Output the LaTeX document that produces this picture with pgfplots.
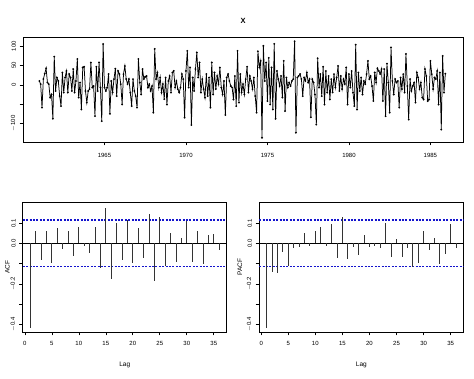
\documentclass[border=0pt]{standalone}
\usepackage{pgfplots}
\usepackage{pgfplotstable}
\pgfplotsset{compat=1.18}
\usepackage{fontspec}
\setmainfont{Liberation Sans}
\definecolor{cibl}{RGB}{20,20,205}

\pgfplotstableread{
v
10
2
-59
15
29
43
6
2
-33
-25
-88
73
-16
19
10
-29
-55
32
-20
19
36
-20
28
19
-16
41
-20
10
67
-33
6
-64
45
47
-16
-46
-16
-11
58
-7
-3
-81
47
-16
58
-7
-94
106
-7
-16
-7
28
-75
10
-20
15
42
-29
36
28
2
-51
28
49
15
2
15
-20
-55
15
-16
-29
-59
67
6
-25
41
15
21
23
-7
2
-16
-3
-72
93
15
32
-7
19
-20
2
-37
19
-51
10
23
-20
32
36
-7
10
-11
-20
-7
28
15
-85
36
88
-7
45
-104
19
-16
41
84
19
58
-20
15
-11
-33
28
-29
19
-59
58
-25
32
-11
23
2
45
-7
-25
10
-78
19
28
10
-3
-7
-38
23
-55
88
-46
28
-20
2
-25
15
47
-20
23
10
-11
19
-29
-72
87
45
62
-137
101
10
58
-42
70
-51
45
-64
106
-88
36
15
-3
23
-33
62
-68
19
-7
6
-3
10
15
113
-124
19
23
28
15
-29
19
10
32
6
15
-84
15
6
-25
-103
69
-7
28
-29
47
-51
36
-20
23
-38
15
-20
28
-7
19
49
-16
23
-11
15
2
45
-51
28
-7
36
-20
-55
104
-64
32
-16
19
-25
10
2
28
62
15
23
-3
-42
32
6
43
36
28
41
-42
41
-81
55
6
-72
97
10
-25
15
6
10
-59
19
-11
28
-20
80
-3
-90
15
-16
-3
6
-46
32
19
-11
6
-33
-38
41
23
-42
-38
62
28
-11
19
15
36
-51
32
-116
75
-20
29
}\series

\pgfplotstableread{
lag acf pacf
1 -0.416 -0.418
2 0.061 -0.142
3 -0.084 -0.144
4 0.063 -0.040
5 -0.096 -0.112
6 0.076 -0.025
7 -0.028 -0.016
8 0.063 0.050
9 -0.061 -0.012
10 0.079 0.063
11 -0.012 0.079
12 -0.046 -0.013
13 0.083 0.094
14 -0.120 -0.074
15 0.173 0.129
16 -0.178 -0.079
17 0.100 -0.016
18 -0.083 -0.059
19 0.114 0.040
20 -0.096 -0.020
21 0.074 -0.012
22 -0.073 -0.025
23 0.144 0.099
24 -0.186 -0.069
25 0.132 0.020
26 -0.110 -0.066
27 0.054 -0.021
28 -0.091 -0.116
29 0.025 -0.099
30 0.110 0.061
31 -0.092 -0.031
32 0.064 0.028
33 -0.104 -0.101
34 0.040 -0.054
35 0.045 0.094
36 -0.033 -0.025
}\corr

\pgfplotsset{
  rstyle/.style={
    scale only axis,
    axis line style={line width=0.9pt},
    tick align=outside,
    xtick pos=left, ytick pos=left,
    major tick length=3.5pt,
    tick style={line width=0.6pt, black},
    tick label style={font=\fontsize{6}{7}\selectfont},
    /pgf/number format/assume math mode=true,
    /pgf/number format/1000 sep={},
    yticklabel style={rotate=90, anchor=south},
    label style={font=\fontsize{6.5}{7.5}\selectfont},
    clip=true,
  }
}

\begin{document}
\begin{tikzpicture}
\path[use as bounding box] (0,0) rectangle (474pt,379pt);

% Top: time series
\begin{axis}[rstyle,
  at={(23pt,237pt)}, anchor=south west,
  width=440pt, height=105pt,
  xmin=1960, xmax=1987, ymin=-148, ymax=124,
  xtick={1965,1970,1975,1980,1985},
  ytick={-100,-50,0,50,100},
  yticklabels={$-$100,,0,50,100},
  xticklabel style={yshift=-4pt},
  title={\bfseries X}, title style={font=\fontsize{7.5}{8.5}\selectfont, yshift=4pt},
]
\addplot[black, line width=0.75pt, mark=*, mark size=0.5pt]
  table[x expr={1961+\coordindex/12}, y=v] {\series};
\end{axis}

% Bottom left: ACF
\begin{axis}[rstyle,
  at={(22.7pt,47pt)}, anchor=south west,
  width=204pt, height=130pt,
  xmin=-0.4, xmax=37.4, ymin=-0.438, ymax=0.205,
  xtick={0,5,10,15,20,25,30,35},
  ytick={-0.4,-0.3,-0.2,-0.1,0,0.1},
  yticklabels={$-$0.4,,$-$0.2,,0.0,0.1},
  xticklabel style={yshift=-2pt},
  xlabel={Lag}, ylabel={ACF},
  xlabel style={at={(axis description cs:0.5,-0.255)}, anchor=center},
  ylabel style={at={(axis description cs:-0.075,0.5)}, anchor=center},
]
\addplot[black, line width=0.9pt] coordinates {(-1,0) (40,0)};
\addplot[cibl, line width=1.2pt, dash pattern=on 2pt off 1.4pt] coordinates {(-1,0.1155) (40,0.1155)};
\addplot[cibl, line width=1.2pt, dash pattern=on 2pt off 1.4pt] coordinates {(-1,-0.1155) (40,-0.1155)};
\addplot[ycomb, black!80, line width=0.85pt, mark=none] table[x=lag, y=acf] {\corr};
\end{axis}

% Bottom right: PACF
\begin{axis}[rstyle,
  at={(259pt,47pt)}, anchor=south west,
  width=204.7pt, height=130pt,
  xmin=-0.4, xmax=37.4, ymin=-0.438, ymax=0.205,
  xtick={0,5,10,15,20,25,30,35},
  ytick={-0.4,-0.3,-0.2,-0.1,0,0.1},
  yticklabels={$-$0.4,,$-$0.2,,0.0,0.1},
  xticklabel style={yshift=-2pt},
  xlabel={Lag}, ylabel={PACF},
  xlabel style={at={(axis description cs:0.5,-0.255)}, anchor=center},
  ylabel style={at={(axis description cs:-0.093,0.5)}, anchor=center},
]
\addplot[black, line width=0.9pt] coordinates {(-1,0) (40,0)};
\addplot[cibl, line width=1.2pt, dash pattern=on 2pt off 1.4pt] coordinates {(-1,0.1155) (40,0.1155)};
\addplot[cibl, line width=1.2pt, dash pattern=on 2pt off 1.4pt] coordinates {(-1,-0.1155) (40,-0.1155)};
\addplot[ycomb, black!80, line width=0.85pt, mark=none] table[x=lag, y=pacf] {\corr};
\end{axis}
\end{tikzpicture}
\end{document}
